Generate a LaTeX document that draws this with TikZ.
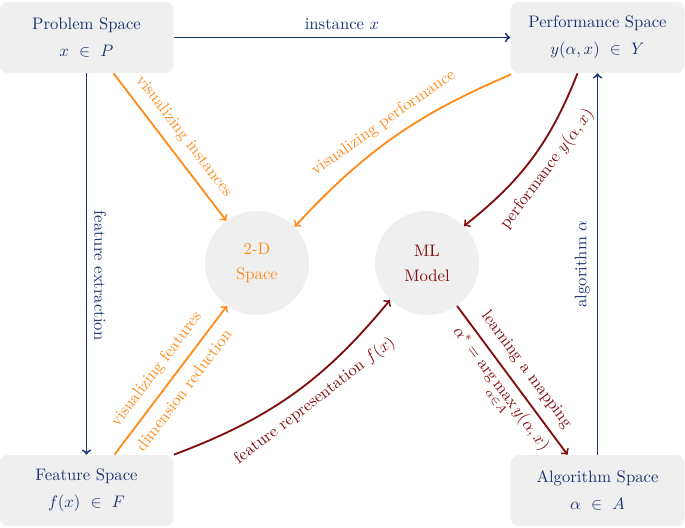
\documentclass[tikz,border=0pt]{standalone}
\usepackage{amsmath}
\usetikzlibrary{calc}
\definecolor{navy}{RGB}{28,52,112}
\definecolor{orng}{RGB}{255,140,26}
\definecolor{dred}{RGB}{128,12,12}
\definecolor{lgray}{RGB}{239,239,239}
\begin{document}
\begin{tikzpicture}[x=0.6pt,y=-0.6pt,
  box/.style={fill=lgray, rounded corners=5pt, minimum width=104.4pt, minimum height=42.6pt, align=center, text=navy, inner sep=0pt},
  circ/.style={circle, fill=lgray, minimum size=62.4pt, inner sep=0pt, align=center},
  arr/.style={->, line width=1.1pt},
  lab/.style={sloped, inner sep=5.5pt}]
\useasboundingbox (0,0) rectangle (685,528);
\node[box] (P) at (86.5,37.5) {Problem Space\\[4pt]$x\ \in\ P$};
\node[box] (Y) at (597.5,37.5) {Performance Space\\[4pt]$y(\alpha,x)\ \in\ Y$};
\node[box] (F) at (86.5,490.5) {Feature Space\\[4pt]$f(x)\ \in\ F$};
\node[box] (A) at (597.5,490.5) {Algorithm Space\\[4pt]$\alpha\ \in\ A$};
\node[circ, text=orng] (D) at (257,263) {2-D\\[3pt]Space};
\node[circ, text=dred] (M) at (427,263) {ML\\[3pt]Model};

\draw[arr, navy] (P.east) -- node[above, inner sep=4pt] {instance $x$} (Y.west);
\draw[arr, navy] (P.south) -- node[pos=0.53, rotate=-90, anchor=south, inner sep=4pt] {feature extraction} (F.north);
\draw[arr, navy] (A.north) -- node[rotate=90, anchor=south, inner sep=4pt] {algorithm $\alpha$} (Y.south);

\draw[arr, orng] ($(P.south)+(27,0)$) -- node[lab, above] {visualizing instances} (D.126);
\draw[arr, orng] ($(Y.south west)+(1,1)$) to[bend right=12] node[lab, above] {visualizing performance} (D.44);
\draw[arr, dred] ($(Y.south)+(-20,0)$) to[bend left=15] node[lab, below] {performance $y(\alpha,x)$} (M.45);
\draw[arr, orng] ($(F.north)+(28,0)$) -- node[lab, above] {visualizing features} node[lab, below] {dimension reduction} (D.235);
\draw[arr, dred] (F.north east) to[bend right=15] node[lab, pos=0.55, below] {feature representation $f(x)$} (M.225);
\draw[arr, dred] (M.-55) -- node[lab, above] {learning a mapping} node[lab, below, inner sep=3pt] {$\alpha^* = \arg\max\limits_{\alpha\in A} y(\alpha,x)$} ($(A.north)+(-30,0)$);
\end{tikzpicture}
\end{document}
